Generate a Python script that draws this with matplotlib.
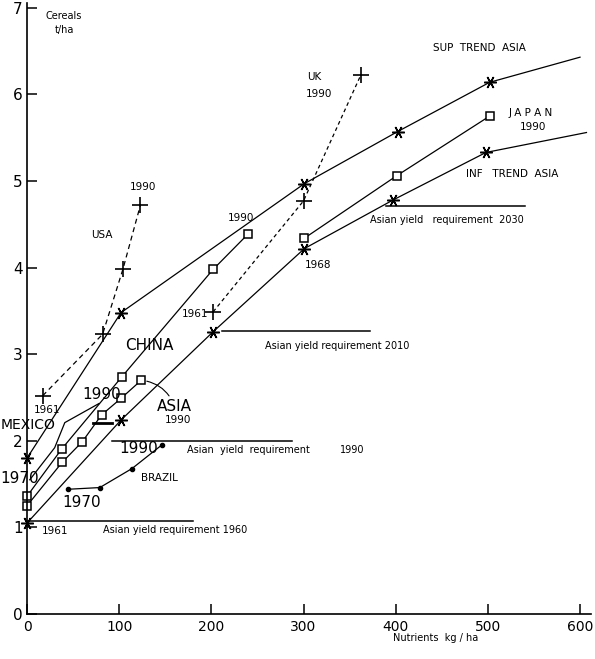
import matplotlib
matplotlib.use("Agg")
import matplotlib.pyplot as plt

# nutrients kg/ha (x) and cereal yield t/ha (y)
usa_x = [17, 82, 104, 123]
usa_y = [2.52, 3.23, 3.98, 4.72]

uk_x = [202, 300, 362]
uk_y = [3.49, 4.77, 6.22]

sup_x = [0, 102, 301, 402, 502, 600]
sup_y = [1.80, 3.48, 4.97, 5.57, 6.14, 6.43]

inf_x = [0, 102, 202, 301, 397, 498, 607]
inf_y = [1.05, 2.24, 3.26, 4.22, 4.78, 5.33, 5.56]

japan_x = [301, 401, 502]
japan_y = [4.34, 5.06, 5.75]

china_x = [0, 38, 103, 202, 240]
china_y = [1.36, 1.91, 2.74, 3.98, 4.39]

asia_x = [0, 38, 60, 81, 102, 124]
asia_y = [1.25, 1.75, 1.99, 2.30, 2.49, 2.70]

mexico_x = [3, 30, 41, 78]
mexico_y = [1.55, 1.92, 2.21, 2.43]

brazil_x = [44, 79, 114, 146]
brazil_y = [1.44, 1.46, 1.68, 1.95]

# Asian yield requirement lines: (year, level, x from, x to)
req_year = ['1960', '1990', '2010', '2030']
req_level = [1.07, 2.00, 3.27, 4.71]
req_from = [0, 92, 212, 390]
req_to = [180, 287, 372, 540]

asterisk = (6, 2, 90)

fig = plt.figure(figsize=(5.95, 6.59), dpi=100)
ax = fig.add_axes([0.0454, 0.0683, 0.948, 0.9264])
ax.set_xlim(0, 612)
ax.set_ylim(0, 7.05)

k = dict(color='black', lw=0.9, clip_on=False)
ax.plot(usa_x, usa_y, ls=(0, (4, 3)), marker='+', ms=12, mew=1.2, **k)
ax.plot(uk_x, uk_y, ls=(0, (3, 2.5)), marker='+', ms=12, mew=1.2, **k)
ax.plot(sup_x[:-1], sup_y[:-1], marker=asterisk, ms=9, mew=1.1, ls='none',
        color='black', clip_on=False)
ax.plot(sup_x, sup_y, **k)
ax.plot(inf_x[:-1], inf_y[:-1], marker=asterisk, ms=9, mew=1.1, ls='none',
        color='black', clip_on=False)
ax.plot(inf_x, inf_y, **k)
ax.plot(japan_x, japan_y, marker='s', ms=6, mfc='white', mew=1.1, **k)
ax.plot(china_x, china_y, marker='s', ms=6, mfc='white', mew=1.1, **k)
ax.plot(asia_x, asia_y, marker='s', ms=6, mfc='white', mew=1.1, **k)
ax.plot(mexico_x, mexico_y, **k)
ax.plot(brazil_x, brazil_y, marker='o', ms=3, **k)

for lv, a, b in zip(req_level, req_from, req_to):
    ax.plot([a, b], [lv, lv], color='black', lw=1.1)
ax.plot([72, 92], [2.20, 2.20], color='black', lw=2)

# leader from the ASIA label to the last ASIA point
ax.annotate('ASIA', xy=(asia_x[-1], asia_y[-1]), xytext=(141, 2.40),
            fontsize=11, va='center',
            arrowprops=dict(arrowstyle='-', color='black', lw=0.8,
                            connectionstyle='arc3,rad=0.3', shrinkA=0, shrinkB=4))

sm = dict(fontsize=7.5, color='black')
md = dict(fontsize=11, color='black')
ax.text(-29, 2.18, 'MEXICO', va='center', fontsize=10)
ax.text(-29, 1.57, '1970', va='center', **md)
ax.text(60, 2.54, '1990', va='center', **md)
ax.text(106, 3.10, 'CHINA', va='center', **md)
ax.text(150, 2.24, '1990', va='center', **sm)
ax.text(38, 1.29, '1970', va='center', **md)
ax.text(100, 1.91, '1990', va='center', **md)
ax.text(124, 1.57, 'BRAZIL', va='center', **sm)
ax.text(16, 0.96, '1961', va='center', **sm)
ax.text(7, 2.35, '1961', va='center', **sm)
ax.text(168, 3.47, '1961', va='center', **sm)
ax.text(70, 4.38, 'USA', va='center', **sm)
ax.text(112, 4.93, '1990', va='center', **sm)
ax.text(218, 4.57, '1990', va='center', **sm)
ax.text(304, 6.20, 'UK', va='center', **sm)
ax.text(302, 6.01, '1990', va='center', **sm)
ax.text(440, 6.54, 'SUP  TREND  ASIA', va='center', **sm)
ax.text(522, 5.79, 'J A P A N', va='center', **sm)
ax.text(535, 5.62, '1990', va='center', **sm)
ax.text(476, 5.08, 'INF   TREND  ASIA', va='center', **sm)
ax.text(301, 4.03, '1968', va='center', **sm)

req_text = [(82, 0.97, 'Asian yield requirement 1960'),
            (174, 1.89, 'Asian  yield  requirement'),
            (258, 3.09, 'Asian yield requirement 2010'),
            (372, 4.55, 'Asian yield   requirement  2030')]
for tx, ty, s in req_text:
    ax.text(tx, ty, s, va='center', fontsize=7)
ax.text(340, 1.89, '1990', va='center', fontsize=7)

ax.text(20, 6.90, 'Cereals', va='center', fontsize=7)
ax.text(30, 6.74, 't/ha', va='center', fontsize=7)
ax.text(397, -0.28, 'Nutrients  kg / ha', va='center', fontsize=7, clip_on=False)

for s in ['top', 'right']:
    ax.spines[s].set_visible(False)
for s in ['left', 'bottom']:
    ax.spines[s].set_linewidth(1.2)

ax.set_xticks([0, 100, 200, 300, 400, 500, 600])
ax.set_yticks(range(8))
ax.tick_params(direction='in', length=7, width=1.1, labelsize=11)
ax.tick_params(axis='x', pad=4, labelsize=10)
ax.tick_params(axis='y', pad=3)

fig.savefig('out.png', dpi=100)
